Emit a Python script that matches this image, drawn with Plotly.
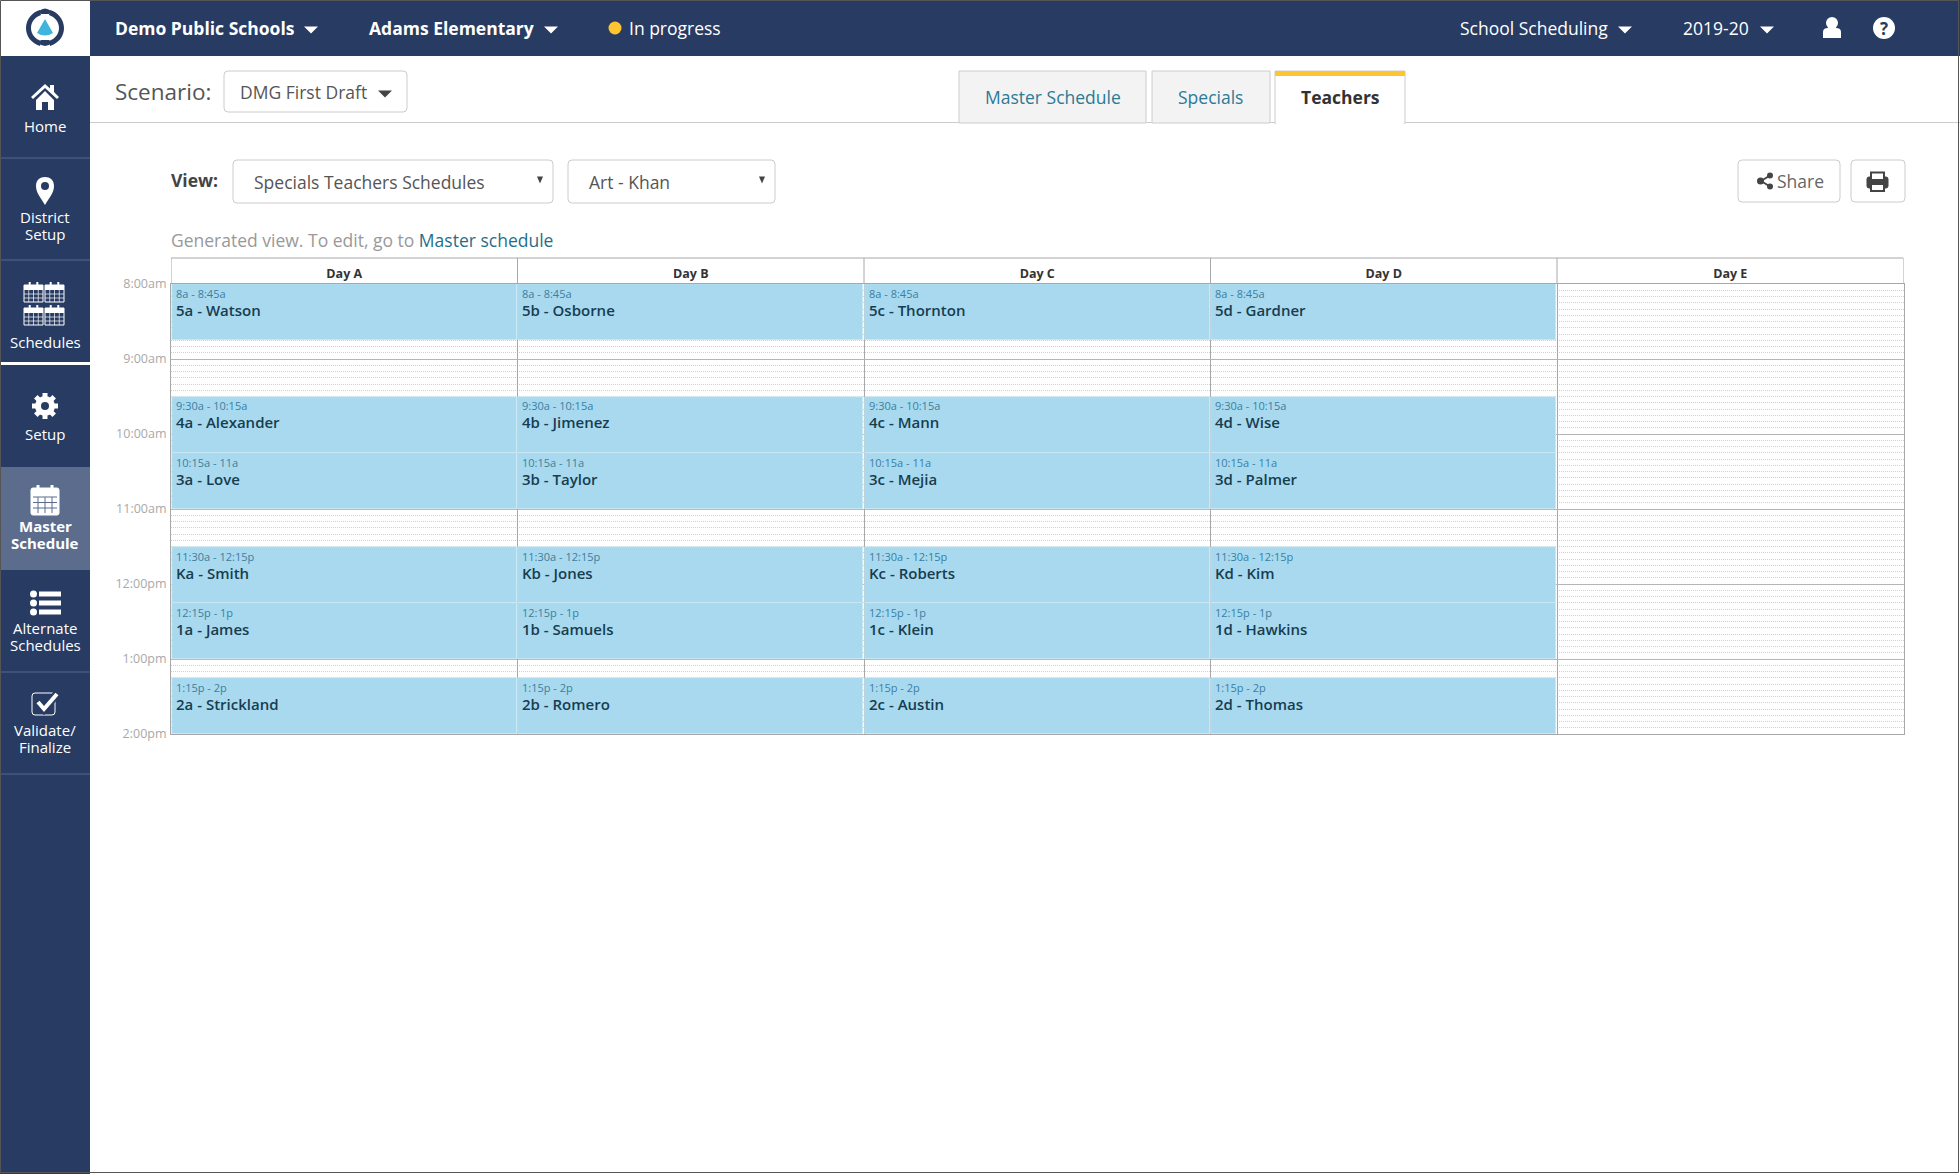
import math
import plotly.graph_objects as go

W, H = 1960, 1174

days = ["Day A", "Day B", "Day C", "Day D", "Day E"]
hour_ticks = [8, 9, 10, 11, 12, 13, 14]
hour_labels = ["8:00am", "9:00am", "10:00am", "11:00am", "12:00pm", "1:00pm", "2:00pm"]

period_start = [8, 9.5, 10.25, 11.5, 12.25, 13.25]
period_length = [0.75, 0.75, 0.75, 0.75, 0.75, 0.75]
period_labels = ["8a - 8:45a", "9:30a - 10:15a", "10:15a - 11a", "11:30a - 12:15p", "12:15p - 1p", "1:15p - 2p"]

classes_a = ["5a - Watson", "4a - Alexander", "3a - Love", "Ka - Smith", "1a - James", "2a - Strickland"]
classes_b = ["5b - Osborne", "4b - Jimenez", "3b - Taylor", "Kb - Jones", "1b - Samuels", "2b - Romero"]
classes_c = ["5c - Thornton", "4c - Mann", "3c - Mejia", "Kc - Roberts", "1c - Klein", "2c - Austin"]
classes_d = ["5d - Gardner", "4d - Wise", "3d - Palmer", "Kd - Kim", "1d - Hawkins", "2d - Thomas"]

NAVY = "#283b62"
FONT = "Open Sans"

shapes = []
notes = []


# page pixels -> paper fractions, only used for the app chrome around the grid
def fx(x):
    return x / W


def fy(y):
    return 1 - y / H


def path(d, ox=0, oy=0, fill=None, line=None, width=1):
    out, is_x = [], True
    for tok in d.split():
        if tok.isalpha():
            out.append(tok)
            is_x = True
        elif is_x:
            out.append(str(fx(float(tok) + ox)))
            is_x = False
        else:
            out.append(str(fy(float(tok) + oy)))
            is_x = True
    shapes.append(dict(type="path", xref="paper", yref="paper", path=" ".join(out),
                       fillcolor=fill or "rgba(0,0,0,0)",
                       line=dict(color=line or "rgba(0,0,0,0)", width=width if line else 0)))


def rect(x0, y0, x1, y1, fill=None, line=None, width=1):
    shapes.append(dict(type="rect", xref="paper", yref="paper", x0=fx(x0), x1=fx(x1), y0=fy(y0), y1=fy(y1),
                       fillcolor=fill or "rgba(0,0,0,0)",
                       line=dict(color=line or "rgba(0,0,0,0)", width=width if line else 0)))


def circle(cx, cy, r, fill):
    shapes.append(dict(type="circle", xref="paper", yref="paper", x0=fx(cx - r), x1=fx(cx + r),
                       y0=fy(cy - r), y1=fy(cy + r), fillcolor=fill, line=dict(width=0)))


def seg(x0, y0, x1, y1, color, width=1):
    shapes.append(dict(type="line", xref="paper", yref="paper", x0=fx(x0), x1=fx(x1), y0=fy(y0), y1=fy(y1),
                       line=dict(color=color, width=width)))


def rbox(x0, y0, x1, y1, r=4, fill="#ffffff", line="#cccccc"):
    path(f"M {x0+r} {y0} L {x1-r} {y0} Q {x1} {y0} {x1} {y0+r} L {x1} {y1-r} Q {x1} {y1} {x1-r} {y1} "
         f"L {x0+r} {y1} Q {x0} {y1} {x0} {y1-r} L {x0} {y0+r} Q {x0} {y0} {x0+r} {y0} Z",
         fill=fill, line=line)


def caret(cx, cy, w, h, color):
    path(f"M {cx-w/2} {cy-h/2} L {cx+w/2} {cy-h/2} L {cx} {cy+h/2} Z", fill=color)


def label(text, x, y, size=17.5, color="#555555", anchor="left", weight=400):
    if anchor == "left":
        x -= 2.5  # annotation box padding
    notes.append(dict(text=text, xref="paper", yref="paper", x=fx(x), y=fy(y), showarrow=False,
                      xanchor=anchor, yanchor="middle", align="center",
                      font=dict(family=FONT, size=size, color=color, weight=weight)))


def small_calendar(x, y, w, h):
    rect(x, y + 2, x + w, y + h, line="#ffffff", width=1)
    rect(x, y + 2, x + w, y + 7, fill="#ffffff")
    for k in (1, 2, 3):
        seg(x + k * w / 4, y + 7, x + k * w / 4, y + h, "#ffffff", 0.7)
    for k in (1, 2):
        seg(x, y + 7 + k * (h - 7) / 3, x + w, y + 7 + k * (h - 7) / 3, "#ffffff", 0.7)
    for k in (0.3, 0.7):
        seg(x + k * w, y - 1, x + k * w, y + 4, "#ffffff", 2)


# ---- top bar and side bar
rect(0, 0, W, 56, fill=NAVY)
rect(0, 56, 90, H, fill=NAVY)
rect(0, 0, 90, 56, fill="#ffffff")
rect(0, 467, 90, 570, fill="#5b6c8c")
for y in (158, 260, 672, 774):
    seg(0, y, 90, y, "#56688a", 1)
seg(0, 363.5, 90, 363.5, "#ffffff", 3)

# logo
path("M 40 10 C 32 12 26 20 26 28 C 26 36 31 43 40 46 L 41 41 C 35 39 31 34 31 28 C 31 22 35 17 41 15 Z", fill=NAVY)
path("M 50 10 C 58 12 64 20 64 28 C 64 36 59 43 50 46 L 49 41 C 55 39 59 34 59 28 C 59 22 55 17 49 15 Z", fill=NAVY)
path("M 39 11 Q 45 6 51 11 L 49 14 L 41 14 Z", fill=NAVY)
path("M 38 43 Q 45 49 52 43 L 49 40 L 41 40 Z", fill=NAVY)
path("M 45 19 L 53 33 Q 45 38 37 33 Z", fill="#3fb4dd")

# home
path("M -14 0 L 0 -13 L 5 -8.5 L 5 -12 L 9 -12 L 9 -5 L 14 0 L 12 2 L 0 -9 L -12 2 Z", 45, 97, fill="#ffffff")
path("M -9 3 L 0 -6 L 9 3 L 9 13 L 3 13 L 3 5 L -3 5 L -3 13 L -9 13 Z", 45, 97, fill="#ffffff")
label("Home", 45, 126, 15, "#ffffff", "center")

# pin
path("M 0 14 C -4 7 -9 2 -9 -5 C -9 -11 -5 -14 0 -14 C 5 -14 9 -11 9 -5 C 9 2 4 7 0 14 Z", 45, 191, fill="#ffffff")
circle(45, 186, 4, NAVY)
label("District", 45, 217, 15, "#ffffff", "center")
label("Setup", 45, 234, 15, "#ffffff", "center")

# schedules
for cx in (24, 45):
    for cy in (283, 306):
        small_calendar(cx, cy, 19, 19)
label("Schedules", 45, 342, 15, "#ffffff", "center")

# setup gear
for a in (0, 45, 90, 135):
    dx, dy = 13 * math.cos(math.radians(a)), 13 * math.sin(math.radians(a))
    seg(45 - dx, 406 - dy, 45 + dx, 406 + dy, "#ffffff", 5)
circle(45, 406, 10, "#ffffff")
circle(45, 406, 4, NAVY)
label("Setup", 45, 434, 15, "#ffffff", "center")

# master schedule calendar
rbox(31, 488, 59, 515, r=2, fill="#ffffff", line="#ffffff")
for k in (1, 2, 3):
    seg(31 + k * 7, 497, 31 + k * 7, 513, "#5b6c8c", 1)
for k in (0, 1, 2):
    seg(33, 497 + k * 5.5, 57, 497 + k * 5.5, "#5b6c8c", 1)
seg(38, 485, 38, 491, "#ffffff", 3)
seg(52, 485, 52, 491, "#ffffff", 3)
label("Master", 45, 526, 15, "#ffffff", "center", 700)
label("Schedule", 45, 543, 15, "#ffffff", "center", 700)

# alternate schedules list
for y in (594, 603, 612):
    circle(33.5, y, 3.5, "#ffffff")
    rect(39, y - 2.5, 61, y + 2.5, fill="#ffffff")
label("Alternate", 45, 628, 15, "#ffffff", "center")
label("Schedules", 45, 645, 15, "#ffffff", "center")

# validate checkbox
rbox(32, 693, 55, 715, r=3, fill=NAVY, line="#ffffff")
path("M 38 702 L 44 709 L 57 694", line=NAVY, width=8)
path("M 38 702 L 44 709 L 57 694", line="#ffffff", width=4)
label("Validate/", 45, 730, 15, "#ffffff", "center")
label("Finalize", 45, 747, 15, "#ffffff", "center")

# top bar content
label("Demo Public Schools", 115, 28, weight=700, color="#ffffff")
caret(311, 30, 14, 7, "#ffffff")
label("Adams Elementary", 369, 28, weight=700, color="#ffffff")
caret(551, 30, 14, 7, "#ffffff")
circle(615, 28, 6.5, "#fdc52f")
label("In progress", 629, 28, color="#ffffff")
label("School Scheduling", 1460, 28, color="#ffffff")
caret(1625, 30, 14, 7, "#ffffff")
label("2019-20", 1683, 28, color="#ffffff")
caret(1767, 30, 14, 7, "#ffffff")
circle(1832, 23, 6, "#ffffff")
path("M 1823 38 L 1823 32 Q 1823 28 1828 28 L 1836 28 Q 1841 28 1841 32 L 1841 38 Z", fill="#ffffff")
circle(1884, 28, 11, "#ffffff")
label("?", 1884, 28, 17, NAVY, "center", 700)

# scenario row and tabs
label("Scenario:", 115, 91, 22.5, "#555555")
rbox(224, 71, 407, 112)
label("DMG First Draft", 240, 92, 17.5, "#555555")
caret(385, 94, 14, 7, "#444444")
seg(90, 122.5, W, 122.5, "#cccccc", 1)
rect(959, 71, 1146, 123, fill="#f3f3f3", line="#cccccc")
rect(1152, 71, 1270, 123, fill="#f3f3f3", line="#cccccc")
rect(1275, 71, 1405, 123.5, fill="#ffffff", line="#cccccc")
seg(1276, 123, 1404, 123, "#ffffff", 2)
rect(1275, 71, 1405, 76, fill="#fdc52f")
label("Master Schedule", 1052.5, 97, 17.5, "#2b7a96", "center")
label("Specials", 1210, 97, 17.5, "#2b7a96", "center")
label("Teachers", 1340, 97, 17.5, "#333333", "center", 700)

# view row
label("View:", 171, 180, 17.5, "#444444", weight=700)
rbox(233, 160, 553, 203)
label("Specials Teachers Schedules", 254, 182, 17.5, "#555555")
caret(540, 180, 6, 7, "#444444")
rbox(568, 160, 775, 203)
label("Art - Khan", 589, 182, 17.5, "#555555")
caret(762, 180, 6, 7, "#444444")

rbox(1738, 160, 1840, 202)
seg(1761, 181, 1770, 175.5, "#444444", 2)
seg(1761, 181, 1770, 186.5, "#444444", 2)
circle(1760.5, 181, 3.5, "#444444")
circle(1770, 175.5, 3, "#444444")
circle(1770, 186.5, 3, "#444444")
label("Share", 1777, 181, 17.5, "#666666")
rbox(1851, 160, 1905, 202)
rbox(1867, 177, 1888, 188, r=2, fill="#444444", line="#444444")
rect(1871, 172.5, 1884, 180, fill="#ffffff", line="#444444", width=2)
rect(1871, 184, 1884, 191, fill="#ffffff", line="#444444", width=2)

label("Generated view. To edit, go to <span style='color:#1f6f8c'>Master schedule</span>", 171, 240, 17.5, "#999999")
rect(0.5, 0.5, W - 1.5, H - 1.5, line="#555555")

# ---- day header cell above the grid
for i in range(len(days) + 1):
    shapes.append(dict(type="line", xref="x", yref="paper", x0=i - 0.5, x1=i - 0.5, y0=fy(284), y1=fy(258),
                       line=dict(color="#a8a8a8", width=1)))
shapes.append(dict(type="line", xref="x", yref="paper", x0=-0.5, x1=len(days) - 0.5, y0=fy(258), y1=fy(258),
                   line=dict(color="#a8a8a8", width=1)))

# ---- schedule
fig = go.Figure()
columns = [classes_a, classes_b, classes_c, classes_d]
for p in range(len(period_start)):
    fig.add_trace(go.Bar(
        x=days[:4],
        y=[period_length[p]] * 4,
        base=[period_start[p]] * 4,
        width=0.995,
        name=period_labels[p],
        text=[c[p] for c in columns],
        textposition="none",
        marker=dict(color="#a8d9ef", line=dict(color="#d3ecf7", width=0.6)),
        showlegend=False,
    ))
    for d, col in enumerate(columns):
        notes.append(dict(text=period_labels[p], xref="x", yref="y", x=d - 0.5, y=period_start[p], xshift=2.5, yshift=-9.5,
                          showarrow=False, xanchor="left", yanchor="middle",
                          font=dict(family=FONT, size=11, color="#3a7f9f")))
        notes.append(dict(text=col[p], xref="x", yref="y", x=d - 0.5, y=period_start[p], xshift=2.5, yshift=-26,
                          showarrow=False, xanchor="left", yanchor="middle",
                          font=dict(family=FONT, size=15, color="#173d50", weight=600)))

fig.update_layout(
    width=W, height=H,
    margin=dict(l=0, r=0, t=0, b=0),
    paper_bgcolor="#ffffff",
    plot_bgcolor="#ffffff",
    barmode="overlay",
    bargap=0,
    shapes=shapes,
    annotations=notes,
)
fig.update_xaxes(
    domain=[fx(171), fx(1903.5)],
    automargin=False,
    type="category",
    categoryorder="array",
    categoryarray=days,
    range=[-0.5, 4.5],
    side="top",
    tickson="boundaries",
    ticks="outside",
    ticklen=5,
    tickcolor="rgba(0,0,0,0)",
    tickfont=dict(family=FONT, size=12.5, color="#333333", weight=700),
    showgrid=True,
    gridcolor="#a8a8a8",
    showline=True,
    linecolor="#a8a8a8",
    mirror=True,
    fixedrange=True,
)
fig.update_yaxes(
    domain=[fy(734), fy(284)],
    automargin=False,
    range=[14, 8],
    tickmode="array",
    tickvals=hour_ticks,
    ticktext=hour_labels,
    ticks="outside",
    ticklen=1,
    tickcolor="rgba(0,0,0,0)",
    tickfont=dict(family=FONT, size=12.5, color="#a9a9a9"),
    showgrid=True,
    gridcolor="#b5b5b5",
    minor=dict(dtick=1 / 12, tick0=8, showgrid=True, griddash="1px,1px", gridcolor="#d0d0d0", gridwidth=1, ticks=""),
    showline=True,
    linecolor="#a8a8a8",
    mirror=True,
    zeroline=False,
    fixedrange=True,
)

fig.write_html("out.html", post_script="document.body.style.margin='0';", config=dict(displayModeBar=False))
